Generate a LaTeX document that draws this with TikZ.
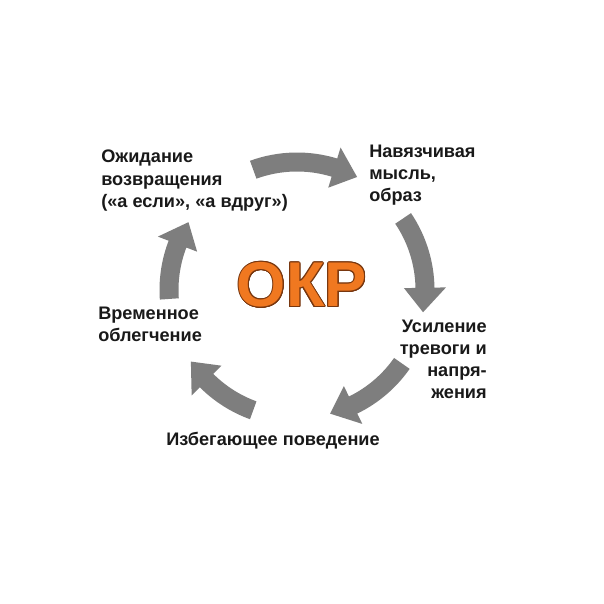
\documentclass[tikz,border=0pt]{standalone}
\usepackage{fontspec}
\setmainfont{Liberation Sans}
\usepackage{contour}
\contourlength{0.7pt}
\definecolor{arrowgray}{RGB}{126,126,126}
\definecolor{okporange}{RGB}{240,120,32}
\definecolor{okpbrown}{RGB}{120,55,15}
\tikzset{
  lbl/.style={inner sep=0pt, align=left, anchor=north west,
    font=\bfseries\fontsize{12.9pt}{15.7pt}\selectfont, text=black!90},
  cyclearrow/.style={fill=arrowgray}
}
\newcommand{\cyclearrow}[2]{%
  \fill[cyclearrow] (#1:137.5) arc[start angle=#1, end angle=#2+11, radius=137.5]
    -- (#2+11:149) -- (#2:128) -- (#2+11:107) -- (#2+11:118.5)
    arc[start angle=#2+11, end angle=#1, radius=118.5] -- cycle;}

\begin{document}
\begin{tikzpicture}[x=0.025cm, y=0.025cm]
  \useasboundingbox[fill=white] (0,0) rectangle (604,-604);
  \coordinate (c) at (297,-290);
  \begin{scope}[shift={(c)}]
    \cyclearrow{110}{62}
    \cyclearrow{34}{-10}
    \cyclearrow{-35}{-75}
    \cyclearrow{-110}{-146}
    \cyclearrow{184}{148}
  \end{scope}
  \node[inner sep=0pt, font=\bfseries\fontsize{45pt}{45pt}\selectfont, text=okporange]
    (okp) at (302,-285.5) {\contour{okpbrown}{ОКР}};
  \node[lbl] (wait) at (101,-150) {Ожидание\\возвращения\\(«а если», «а вдруг»)};
  \node[lbl] (thought) at (369,-145) {Навязчивая\\мысль,\\образ};
  \node[lbl, align=right, anchor=north east] (anxiety) at (487,-320)
    {Усиление\\тревоги и\\напря-\\жения};
  \node[lbl] (relief) at (98,-307) {Временное\\облегчение};
  \node[lbl, anchor=base west] (avoid) at (166,-445) {Избегающее поведение};
\end{tikzpicture}
\end{document}
